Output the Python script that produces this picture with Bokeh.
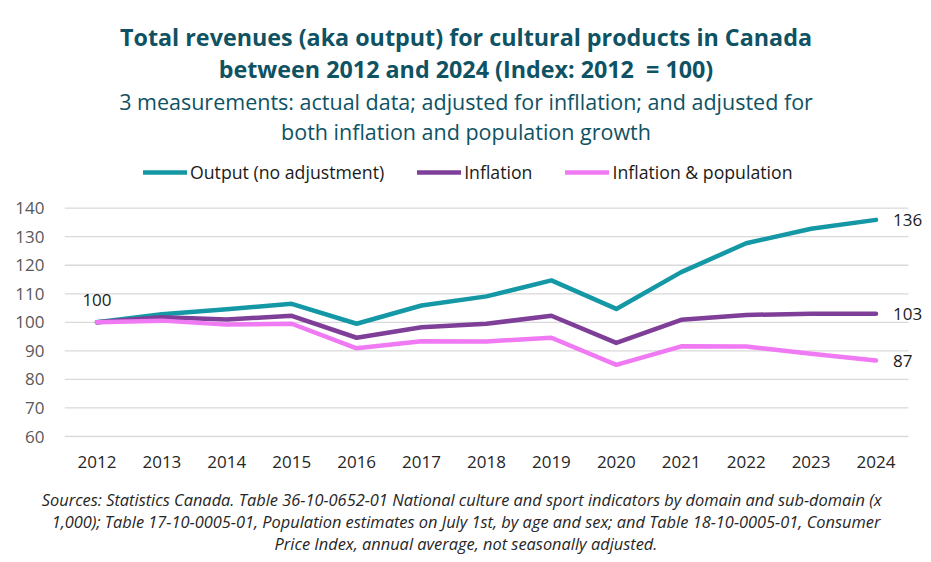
from bokeh.plotting import figure
from bokeh.layouts import column
from bokeh.models import (ColumnDataSource, Range1d, FixedTicker, Legend, LegendItem, Label)
from bokeh.core.properties import value
from bokeh.embed import file_html
from bokeh.resources import INLINE

years = ["2012", "2013", "2014", "2015", "2016", "2017", "2018", "2019", "2020",
         "2021", "2022", "2023", "2024"]
output_idx = [100, 102.8, 104.6, 106.5, 99.5, 105.9, 109.1, 114.7, 104.7, 117.6, 127.7, 132.8, 135.9]
inflation_idx = [100, 101.8, 101.0, 102.3, 94.6, 98.3, 99.5, 102.3, 92.8, 100.9, 102.6, 103.0, 103.0]
infl_pop_idx = [100, 100.6, 99.2, 99.5, 90.9, 93.4, 93.3, 94.6, 85.1, 91.6, 91.5, 89.0, 86.6]
series_names = ["Output (no adjustment)", "Inflation", "Inflation & population"]
y_ticks = [60, 70, 80, 90, 100, 110, 120, 130, 140]

title_lines = ["Total revenues (aka output) for cultural products in Canada",
               "between 2012 and 2024 (Index: 2012 \u00a0= 100)"]
subtitle_lines = ["3 measurements: actual data; adjusted for infllation; and adjusted for",
                  "both inflation and population growth"]
source_lines = ["Sources: Statistics Canada. Table 36-10-0652-01  National culture  and sport indicators by domain and sub-domain (x",
                "1,000); Table 17-10-0005-01, Population estimates on July 1st, by age and sex; and Table 18-10-0005-01, Consumer",
                "Price Index, annual average, not seasonally adjusted."]

FONT = "Open Sans"
colors = ["#1598A5", "#7F3F98", "#F07AF3"]
TITLE_COLOR = "#0E5263"
TEXT_COLOR = "#1a1a1a"

W = 931
H1, H2 = 480, 82
LEFT, BOTTOM = 64, 43
FRAME_H = H1 - BOTTOM
STEP = 64.92                      # pixels per year
PXU = 2.854                       # pixels per index unit
CX = W / 2 - LEFT

xs = [int(y) for y in years]
x0 = xs[0] - 0.5
x1 = x0 + (W - LEFT) / STEP
y0 = 60 - 1 / PXU
y1 = y0 + FRAME_H / PXU

p = figure(width=W, height=H1, output_backend="svg", toolbar_location=None,
           x_range=Range1d(x0, x1), y_range=Range1d(y0, y1),
           min_border_left=LEFT, min_border_right=0,
           min_border_top=0, min_border_bottom=BOTTOM)
p.frame_align = False
p.outline_line_color = None
p.background_fill_color = "white"
p.border_fill_color = "white"

p.xgrid.grid_line_color = None
p.ygrid.grid_line_color = None
p.xaxis.ticker = FixedTicker(ticks=xs)
p.xaxis.major_label_overrides = {x: y for x, y in zip(xs, years)}
p.yaxis.ticker = FixedTicker(ticks=y_ticks)

for ax in (p.xaxis[0], p.yaxis[0]):
    ax.axis_line_color = None
    ax.major_tick_line_color = None
    ax.minor_tick_line_color = None
    ax.major_label_text_font = FONT
    ax.major_label_text_font_size = "17px"
p.xaxis.major_label_text_color = "#262626"
p.yaxis.major_label_text_color = "#595959"
p.xaxis.major_label_standoff = 12
p.yaxis.major_label_standoff = 14

# horizontal gridlines spanning the category band only
p.segment(x0=[x0] * len(y_ticks), x1=[xs[-1] + 0.5] * len(y_ticks), y0=y_ticks, y1=y_ticks,
          line_color="#D9D9D9", line_width=1.3)

series = [output_idx, inflation_idx, infl_pop_idx]
renderers = []
for vals, col in zip(series, colors):
    src = ColumnDataSource(dict(x=xs, y=vals))
    r = p.line("x", "y", source=src, line_color=col, line_width=4.5,
               line_join="round", line_cap="round")
    renderers.append(r)

# data labels
first = ColumnDataSource(dict(x=[xs[0]], y=[output_idx[0]], t=[f"{output_idx[0]:.0f}"]))
p.text("x", "y", text="t", source=first, text_align="center", text_baseline="middle",
       y_offset=-22, text_font=value(FONT), text_font_size="17px", text_color=TEXT_COLOR)
last = ColumnDataSource(dict(x=[xs[-1]] * 3, y=[s[-1] for s in series],
                             t=[f"{s[-1]:.0f}" for s in series]))
p.text("x", "y", text="t", source=last, text_align="left", text_baseline="middle",
       x_offset=17, text_font=value(FONT), text_font_size="17px", text_color=TEXT_COLOR)

legend = Legend(items=[LegendItem(label=n, renderers=[r]) for n, r in zip(series_names, renderers)],
                orientation="horizontal", location=(143 - LEFT, FRAME_H - 184),
                label_text_font=FONT, label_text_font_size="17.7px", label_text_color=TEXT_COLOR,
                glyph_width=44, glyph_height=20, label_standoff=3, spacing=33,
                label_height=20, padding=0, margin=0, border_line_color=None,
                background_fill_alpha=0)
p.add_layout(legend, "center")

def add_label(fig, text, x, y, size, style="normal", color=TEXT_COLOR):
    fig.add_layout(Label(x=x, y=y, x_units="screen", y_units="screen",
                         text=text, text_align="center", text_baseline="alphabetic",
                         text_font=FONT, text_font_size=size, text_font_style=style,
                         text_color=color))

add_label(p, title_lines[0], CX, FRAME_H - 36, "23.3px", "bold", TITLE_COLOR)
add_label(p, title_lines[1], CX, FRAME_H - 68, "23.3px", "bold", TITLE_COLOR)
add_label(p, subtitle_lines[0], CX, FRAME_H - 100.5, "21.5px", "normal", TITLE_COLOR)
add_label(p, subtitle_lines[1], CX, FRAME_H - 130.5, "21.5px", "normal", TITLE_COLOR)

# sources panel (its own full-width frame)
q = figure(width=W, height=H2, output_backend="svg", toolbar_location=None,
           x_range=Range1d(0, W), y_range=Range1d(0, H2),
           x_axis_location=None, y_axis_location=None, min_border=0)
q.frame_align = False
q.outline_line_color = None
q.grid.visible = False
for line, base in zip(source_lines, [499, 520.5, 543]):
    add_label(q, line, W / 2, H1 + H2 - base, "16.4px", "italic", "#262626")

layout = column(p, q, spacing=0)
open("out.html", "w").write(file_html(layout, INLINE))
